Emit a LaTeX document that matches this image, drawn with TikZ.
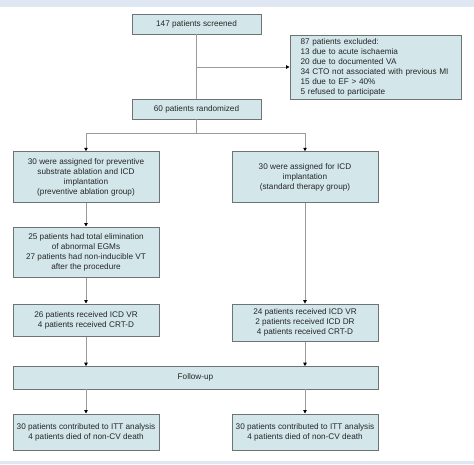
\documentclass[tikz,border=0pt]{standalone}
\usepackage{fontspec}
\setmainfont{Liberation Sans}
\usetikzlibrary{arrows.meta}
\definecolor{boxfill}{HTML}{D3E7EA}
\definecolor{boxline}{HTML}{6E7476}
\definecolor{connline}{HTML}{9A9A9A}
\definecolor{band}{HTML}{DFE8F2}
\begin{document}
\begin{tikzpicture}[x=1pt,y=-1pt,
  flowbox/.style={draw=boxline, fill=boxfill, line width=0.9pt, inner sep=0pt,
    font=\fontsize{8.2}{10}\selectfont, align=center, text=black!85},
  conn/.style={draw=connline, line width=0.9pt},
  arr/.style={conn, -{Triangle[length=3.5pt,width=3.5pt,color=black]}}]
\useasboundingbox (0,0) rectangle (474,464);
\fill[band] (0,0) rectangle (474,7);
\fill[band] (0,460.5) rectangle (474,464);
\node[flowbox, minimum width=129pt, minimum height=20pt] (b1) at (196.5,24) {147 patients screened};
\node[flowbox, minimum width=171pt, minimum height=64pt, text width=150pt, align=left] (ex) at (375.5,67)
  {87 patients excluded:\\13 due to acute ischaemia\\20 due to documented VA\\34 CTO not associated with previous MI\\15 due to EF > 40\%\\5 refused to participate};
\node[flowbox, minimum width=129pt, minimum height=20pt] (b2) at (196.5,109) {60 patients randomized};
\node[flowbox, minimum width=146pt, minimum height=50.6pt] (l1) at (86,177)
  {30 were assigned for preventive\\substrate ablation and ICD\\implantation\\(preventive ablation group)};
\node[flowbox, minimum width=146pt, minimum height=50.6pt] (r1) at (305,177)
  {30 were assigned for ICD\\implantation\\(standard therapy group)};
\node[flowbox, minimum width=146pt, minimum height=50.7pt] (l2) at (86,252.3)
  {25 patients had total elimination\\of abnormal EGMs\\27 patients had non-inducible VT\\after the procedure};
\node[flowbox, minimum width=146pt, minimum height=32.7pt] (l3) at (86,320.3)
  {26 patients received ICD VR\\4 patients received CRT-D};
\node[flowbox, minimum width=146pt, minimum height=37.3pt] (r3) at (305,322.7)
  {24 patients received ICD VR\\2 patients received ICD DR\\4 patients received CRT-D};
\node[flowbox, minimum width=365pt, minimum height=22.3pt] (fu) at (195.5,377.8) {Follow-up};
\node[flowbox, minimum width=146pt, minimum height=36.7pt] (l4) at (86,432.3)
  {30 patients contributed to ITT analysis\\4 patients died of non-CV death};
\node[flowbox, minimum width=146pt, minimum height=36.7pt] (r4) at (305,432.3)
  {30 patients contributed to ITT analysis\\4 patients died of non-CV death};
\coordinate (split) at (196.5,67);
\coordinate (fork) at (196.5,133);
\draw[conn] (b1.south) -- (b2.north);
\draw[arr] (split) -- (ex.west |- split);
\draw[conn] (b2.south) -- (fork);
\draw[arr] (fork) -| (l1.north);
\draw[arr] (fork) -| (r1.north);
\draw[arr] (l1.south) -- (l2.north);
\draw[arr] (l2.south) -- (l3.north);
\draw[arr] (r1.south) -- (r3.north);
\draw[arr] (l3.south) -- (l3.south |- fu.north);
\draw[arr] (r3.south) -- (r3.south |- fu.north);
\draw[arr] (l4.north |- fu.south) -- (l4.north);
\draw[arr] (r4.north |- fu.south) -- (r4.north);
\end{tikzpicture}
\end{document}
